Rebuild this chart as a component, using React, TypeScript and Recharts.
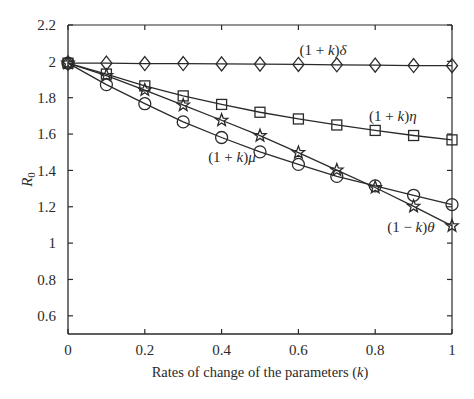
import React from "react";
import {
  LineChart,
  Line,
  XAxis,
  YAxis,
  ReferenceDot,
  ReferenceLine,
  Label,
} from "recharts";

const kValues = [0, 0.1, 0.2, 0.3, 0.4, 0.5, 0.6, 0.7, 0.8, 0.9, 1];
const deltaValues = [1.99, 1.99, 1.988, 1.988, 1.986, 1.985, 1.983, 1.981, 1.979, 1.977, 1.976];
const etaValues = [1.99, 1.93, 1.865, 1.81, 1.763, 1.72, 1.683, 1.65, 1.62, 1.592, 1.568];
const muValues = [1.99, 1.872, 1.767, 1.667, 1.581, 1.502, 1.433, 1.367, 1.315, 1.263, 1.212];
const thetaValues = [1.99, 1.922, 1.842, 1.759, 1.676, 1.591, 1.498, 1.402, 1.306, 1.202, 1.095];

const xTicks = [0, 0.2, 0.4, 0.6, 0.8, 1];
const yTicks = [0.6, 0.8, 1, 1.2, 1.4, 1.6, 1.8, 2, 2.2];

const data = kValues.map((k, i) => ({
  k,
  delta: deltaValues[i],
  eta: etaValues[i],
  mu: muValues[i],
  theta: thetaValues[i],
}));

const INK = "#2a2a2a";
const FONT = "'Liberation Serif', 'DejaVu Serif', serif";
const X_MIN = 0, X_MAX = 1, Y_MIN = 0.5, Y_MAX = 2.2;
// inward tick length, in data units (about 5px)
const TX = 0.013, TY = 0.028;

const starPoints = (cx: number, cy: number, R: number, r: number) => {
  const pts: string[] = [];
  for (let i = 0; i < 10; i++) {
    const rad = i % 2 === 0 ? R : r;
    const a = -Math.PI / 2 + (i * Math.PI) / 5;
    pts.push(`${cx + rad * Math.cos(a)},${cy + rad * Math.sin(a)}`);
  }
  return pts.join(" ");
};

const marker = (kind: string) => (props: any) => {
  const { cx, cy, index } = props;
  const key = `${kind}-${index}`;
  if (cx == null || cy == null) return <g key={key} />;
  const common = { fill: "none", stroke: INK, strokeWidth: 1.3 };
  if (kind === "diamond")
    return (
      <polygon
        key={key}
        points={`${cx},${cy - 7} ${cx + 5.5},${cy} ${cx},${cy + 7} ${cx - 5.5},${cy}`}
        {...common}
      />
    );
  if (kind === "square")
    return <rect key={key} x={cx - 5} y={cy - 5} width={10} height={10} {...common} />;
  if (kind === "circle") return <circle key={key} cx={cx} cy={cy} r={6} {...common} />;
  return <polygon key={key} points={starPoints(cx, cy, 6.5, 2.7)} {...common} />;
};

const curveLabel = (parts: React.ReactNode) => (props: any) => {
  const vb = props.viewBox || {};
  const x = vb.x + (vb.width || 0) / 2;
  const y = vb.y + (vb.height || 0) / 2;
  return (
    <text
      x={x}
      y={y}
      textAnchor="middle"
      dominantBaseline="central"
      fontFamily={FONT}
      fontSize={15}
      fill={INK}
    >
      {parts}
    </text>
  );
};

const it = (s: string) => <tspan fontStyle="italic">{s}</tspan>;

const seg = (key: string, a: [number, number], b: [number, number]) => (
  <ReferenceLine
    key={key}
    segment={[
      { x: a[0], y: a[1] },
      { x: b[0], y: b[1] },
    ]}
    stroke={INK}
    strokeWidth={1.2}
    ifOverflow="visible"
  />
);

export default function App() {
  return (
    <div style={{ position: "absolute", left: 0, top: 0, background: "#fff" }}>
      <LineChart
        width={474}
        height={399}
        data={data}
        margin={{ top: 25, right: 22, left: 0, bottom: 0 }}
      >
        <XAxis
          dataKey="k"
          type="number"
          domain={[X_MIN, X_MAX]}
          ticks={xTicks}
          height={65}
          stroke={INK}
          strokeWidth={1.3}
          tickLine={false}
          tickMargin={4}
          tick={{ fontFamily: FONT, fontSize: 15, fill: INK }}
        >
          <Label
            content={(p: any) => {
              const vb = p.viewBox;
              return (
                <text
                  x={vb.x + vb.width / 2}
                  y={372}
                  textAnchor="middle"
                  dominantBaseline="central"
                  fontFamily={FONT}
                  fontSize={14.5}
                  fill={INK}
                >
                  Rates of change of the parameters ({it("k")})
                </text>
              );
            }}
          />
        </XAxis>
        <YAxis
          type="number"
          domain={[Y_MIN, Y_MAX]}
          ticks={yTicks}
          width={68}
          stroke={INK}
          strokeWidth={1.3}
          tickLine={false}
          tickMargin={6}
          allowDataOverflow
          tick={{ fontFamily: FONT, fontSize: 15, fill: INK }}
        >
          <Label
            content={(p: any) => {
              const vb = p.viewBox;
              const cy = vb.y + vb.height / 2;
              return (
                <text
                  x={27}
                  y={cy}
                  transform={`rotate(-90 27 ${cy})`}
                  textAnchor="middle"
                  dominantBaseline="central"
                  fontFamily={FONT}
                  fontSize={15}
                  fill={INK}
                >
                  {it("R")}
                  <tspan fontSize={11} dy={4}>0</tspan>
                </text>
              );
            }}
          />
        </YAxis>
        {seg("top", [X_MIN, Y_MAX], [X_MAX, Y_MAX])}
        {seg("right", [X_MAX, Y_MIN], [X_MAX, Y_MAX])}
        {xTicks.map((t) => seg(`xb${t}`, [t, Y_MIN], [t, Y_MIN + TY]))}
        {xTicks.map((t) => seg(`xt${t}`, [t, Y_MAX], [t, Y_MAX - TY]))}
        {yTicks.map((t) => seg(`yl${t}`, [X_MIN, t], [X_MIN + TX, t]))}
        {yTicks.map((t) => seg(`yr${t}`, [X_MAX, t], [X_MAX - TX, t]))}
        <Line
          dataKey="delta"
          stroke={INK}
          strokeWidth={1.3}
          dot={marker("diamond")}
          isAnimationActive={false}
        />
        <Line
          dataKey="eta"
          stroke={INK}
          strokeWidth={1.3}
          dot={marker("square")}
          isAnimationActive={false}
        />
        <Line
          dataKey="mu"
          stroke={INK}
          strokeWidth={1.3}
          dot={marker("circle")}
          isAnimationActive={false}
        />
        <Line
          dataKey="theta"
          stroke={INK}
          strokeWidth={1.3}
          dot={marker("star")}
          isAnimationActive={false}
        />
        <ReferenceDot
          x={0.664}
          y={2.063}
          r={0}
          stroke="none"
          label={curveLabel(<>(1 + {it("k")}){it("δ")}</>)}
        />
        <ReferenceDot
          x={0.846}
          y={1.7}
          r={0}
          stroke="none"
          label={curveLabel(<>(1 + {it("k")}){it("η")}</>)}
        />
        <ReferenceDot
          x={0.427}
          y={1.475}
          r={0}
          stroke="none"
          label={curveLabel(<>(1 + {it("k")}){it("μ")}</>)}
        />
        <ReferenceDot
          x={0.893}
          y={1.09}
          r={0}
          stroke="none"
          label={curveLabel(<>(1 − {it("k")}){it("θ")}</>)}
        />
      </LineChart>
    </div>
  );
}
